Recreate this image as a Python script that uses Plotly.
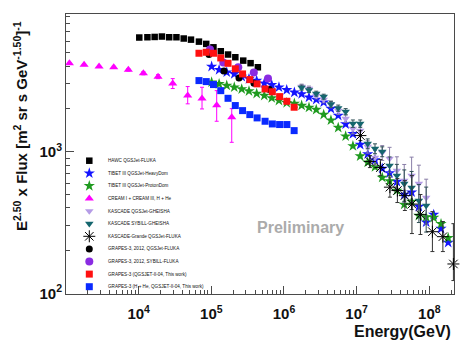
import plotly.graph_objects as go

# ---------------- data ----------------
hawc_E = [1.02e4, 1.32e4, 1.66e4, 2.09e4, 2.63e4, 3.31e4, 4.17e4, 5.25e4, 6.76e4, 8.51e4,
          1.07e5, 1.35e5, 1.70e5, 2.14e5, 2.75e5, 3.47e5, 4.37e5]
hawc_F = [6383, 6412, 6442, 6486, 6412, 6412, 6281, 6166, 5970, 5754,
          5445, 5105, 4842, 4634, 4385, 4207, 3936]

tibet_E = [1.01e5, 1.28e5, 1.63e5, 2.07e5, 2.62e5, 3.30e5, 4.21e5, 5.36e5, 6.78e5, 8.53e5,
           1.09e6, 1.39e6, 1.75e6, 2.21e6, 2.78e6, 3.52e6, 4.43e6, 5.58e6, 7.06e6, 8.89e6,
           1.12e7, 1.42e7, 1.79e7, 2.25e7, 2.84e7, 3.58e7, 4.52e7, 5.71e7, 7.19e7, 9.06e7,
           1.15e8, 1.45e8, 1.82e8]
tibet_heavy_F = [3981, 3776, 3631, 3532, 3381, 3258, 3170, 3034, 2958, 2844,
                 2723, 2618, 2547, 2415, 2328, 2228, 2009, 1795, 1563, 1334,
                 1119, 960, 871, 759, 705, 614, 498, 516, 409, 317,
                 359, 286, 228]
tibet_proton_F = [3083, 3006, 2924, 2844, 2761, 2673, 2566, 2484, 2388, 2291,
                  2208, 2183, 2113, 2046, 1977, 1824, 1663, 1476, 1282, 1094,
                  929, 840, 780, 656, 619, 531, 423, 444, 353, 345,
                  342, 309, 246]

cream_E = [1114, 1774, 2851, 4539, 7211, 11610, 18490, 29440, 47310, 74470, 118600, 191000]
cream_F = [4198, 4102, 3981, 3936, 3776, 3573, 3381, 3020, 2483, 2371, 2123, 1746]
cream_err_up = [60, 60, 60, 70, 80, 90, 110, 253, 394, 473, 569, 264]
cream_err_dn = [60, 60, 60, 70, 80, 90, 110, 234, 310, 371, 486, 583]

kascade_E = [1.75e6, 2.21e6, 2.78e6, 3.52e6, 4.43e6, 5.58e6, 7.06e6, 8.89e6, 1.12e7,
             1.42e7, 1.79e7, 2.25e7, 2.84e7, 3.58e7, 4.52e7, 5.71e7, 7.19e7, 9.06e7]
kascade_qgs_F = [2877, 2786, 2484, 2328, 2148, 1946, 1710, 1452, 1406,
                 1084, 908, 984, 893, 735, 624, 677, 594, 473]
kascade_qgs_pct = [4, 4, 5, 5, 5, 6, 6, 8, 8, 10, 12, 12, 20, 25, 30, 35, 35, 35]
kascade_syb_F = [2831, 2716, 2566, 2443, 2163, 2028, 1915, 1577, 1577,
                 1138, 1050, 1000, 797, 677, 594, 557, 451, 416]
kascade_syb_pct = [4, 4, 4, 4, 5, 5, 5, 6, 6, 8, 8, 8, 15, 20, 25, 30, 30, 35]

kg_E = [1.127e7, 1.524e7, 2.123e7, 2.871e7, 3.639e7, 4.613e7, 5.768e7, 7.551e7, 1.104e8, 1.538e8, 2.148e8]
kg_F = [1297, 850, 771, 561, 531, 489, 426, 359, 272, 251, 161]
kg_hi = [1406, 937, 879, 661, 645, 624, 677, 498, 377, 321, 310]
kg_lo = [1196, 771, 677, 477, 437, 384, 264, 260, 197, 197, 123]

g12_qgs_E = [92900, 149600, 240400, 386400, 632400]
g12_qgs_F = [4838, 3698, 3304, 3034, 2739]
g12_syb_E = [95900, 146200, 235000, 384600, 602600]
g12_syb_F = [5248, 4246, 3936, 3612, 3273]

g3_E = [67610, 85110, 107200, 134900, 169800, 213800, 269200, 338800, 426600, 549500,
        691800, 871000, 1.096e6, 1.380e6]
g3_all_F = [4943, 5023, 4943, 4581, 4198, 3837, 3532, 3221, 3006, 2767, 2642, 2443, 2265, 2056]
g3_hhe_F = [3170, 3119, 2972, 2692, 2377, 2113, 1946, 1824, 1729, 1637, 1567, 1552, 1552, 1406]

legend_labels = ["HAWC QGSJet-FLUKA", "TIBET III QGSJet-HeavyDom", "TIBET III QGSJet-ProtonDom",
                 "CREAM I + CREAM III, H + He", "KASCADE QGSJet-GHEISHA", "KASCADE SYBILL-GHEISHA",
                 "KASCADE-Grande QGSJet-FLUKA", "GRAPES-3, 2012, QGSJet-FLUKA",
                 "GRAPES-3, 2012, SYBILL-FLUKA", "GRAPES-3 (QGSJET-II-04, This work)",
                 "GRAPES-3 (H + He, QGSJET-II-04, This work)"]
x_tickvals = [1e4, 1e5, 1e6, 1e7, 1e8]
x_ticktext = ["10<sup>4</sup>", "10<sup>5</sup>", "10<sup>6</sup>", "10<sup>7</sup>", "10<sup>8</sup>"]
y_tickvals = [100, 1000]
y_ticktext = ["10<sup>2</sup>", "10<sup>3</sup>"]

# ---------------- styles ----------------
C_BLACK = "#000000"
C_BLUE = "#1414ff"
C_GREEN = "#1f9a1f"
C_MAG = "#ff00ff"
C_LAV = "#b59ce6"
C_TEAL = "#15666e"
C_PURP = "#8a2be2"
C_RED = "#ff1010"
C_BSQ = "#0a2aff"

styles = [
    dict(symbol="square", color=C_BLACK, size=6.5),
    dict(symbol="star", color=C_BLUE, size=8.5),
    dict(symbol="star", color=C_GREEN, size=8.5),
    dict(symbol="triangle-up", color=C_MAG, size=8),
    dict(symbol="triangle-down", color=C_LAV, size=7.5),
    dict(symbol="triangle-down", color=C_TEAL, size=7.5),
    dict(symbol="asterisk-open", color=C_BLACK, size=10, line=dict(width=1, color=C_BLACK)),
    dict(symbol="circle", color=C_BLACK, size=7),
    dict(symbol="circle", color=C_PURP, size=8),
    dict(symbol="square", color=C_RED, size=7),
    dict(symbol="square", color=C_BSQ, size=7),
]

fig = go.Figure()

def add(x, y, st, err=None, clip=True):
    fig.add_trace(go.Scatter(x=x, y=y, mode="markers", marker=st, error_y=err,
                             showlegend=False, cliponaxis=clip, hoverinfo="skip"))

add(hawc_E, hawc_F, styles[0])
add(tibet_E, tibet_heavy_F, styles[1])
add(tibet_E, tibet_proton_F, styles[2])
add(cream_E, cream_F, styles[3],
    dict(type="data", array=cream_err_up, arrayminus=cream_err_dn, color=C_MAG, thickness=1, width=2))
add(kascade_E, kascade_qgs_F, styles[4],
    dict(type="data", array=[f * p / 100 for f, p in zip(kascade_qgs_F, kascade_qgs_pct)],
         color="#8a7fa8", thickness=1, width=2))
add(kascade_E, kascade_syb_F, styles[5],
    dict(type="data", array=[f * p / 100 for f, p in zip(kascade_syb_F, kascade_syb_pct)],
         color="#2f4f55", thickness=1, width=2))
add(kg_E, kg_F, styles[6],
    dict(type="data", array=[h - f for h, f in zip(kg_hi, kg_F)],
         arrayminus=[f - l for f, l in zip(kg_F, kg_lo)], color="#333333", thickness=1, width=2),
    clip=False)
add(g12_qgs_E, g12_qgs_F, styles[7])
add(g12_syb_E, g12_syb_F, styles[8])
add(g3_E, g3_all_F, styles[9])
add(g3_E, g3_hhe_F, styles[10])

# ---------------- manual legend (compact rows) ----------------
PLOT_L, PLOT_R, PLOT_T, PLOT_B = 66, 454, 14, 294
W, H = 474, 345
row_px = [160.7 + 12.6 * i for i in range(len(legend_labels))]
row_y = [(PLOT_B - r) / (PLOT_B - PLOT_T) for r in row_px]
mk_x = (89.3 - PLOT_L) / (PLOT_R - PLOT_L)
tx_x = (105.5 - PLOT_L) / (PLOT_R - PLOT_L)
for st, yy in zip(styles, row_y):
    fig.add_trace(go.Scatter(x=[mk_x], y=[yy], xaxis="x2", yaxis="y2", mode="markers",
                             marker=st, showlegend=False, hoverinfo="skip"))
annotations = []
for lab, yy in zip(legend_labels, row_y):
    annotations.append(dict(x=tx_x, y=yy, xref="paper", yref="paper", text=lab, showarrow=False,
                            xanchor="left", yanchor="middle",
                            font=dict(size=4.6, color="#111111", family="Liberation Sans")))

annotations.append(dict(x=(300 - PLOT_L) / (PLOT_R - PLOT_L), y=(PLOT_B - 227) / (PLOT_B - PLOT_T),
                        xref="paper", yref="paper", text="<b>Preliminary</b>", showarrow=False,
                        xanchor="center", yanchor="middle",
                        font=dict(size=16, color="#ababab", family="Liberation Sans")))
annotations.append(dict(x=(453 - PLOT_L) / (PLOT_R - PLOT_L), y=(PLOT_B - 331) / (PLOT_B - PLOT_T),
                        xref="paper", yref="paper", text="<b>Energy(GeV)</b>", showarrow=False,
                        xanchor="right", yanchor="middle",
                        font=dict(size=16, color="#111111", family="Liberation Sans")))
annotations.append(dict(x=(20 - PLOT_L) / (PLOT_R - PLOT_L), y=(PLOT_B - 126) / (PLOT_B - PLOT_T),
                        xref="paper", yref="paper", textangle=-90,
                        text="<b>E<sup>2.50</sup> x Flux [m<sup>2</sup> sr s GeV<sup>-1.50</sup>]<sup>-1</sup></b>",
                        showarrow=False, xanchor="center", yanchor="middle",
                        font=dict(size=15, color="#111111", family="Liberation Sans")))

axis_common = dict(type="log", showgrid=False, zeroline=False, showline=True, mirror=True,
                   linecolor="#4a4a4a", linewidth=1, ticks="inside", ticklen=8, tickwidth=1,
                   tickcolor="#4a4a4a", tickmode="array",
                   tickfont=dict(size=15, color="#111111", family="Liberation Sans", weight="bold"),
                   minor=dict(ticks="inside", ticklen=4, tickwidth=1, tickcolor="#4a4a4a",
                              dtick="D1", showgrid=False))

fig.update_layout(
    width=W, height=H,
    margin=dict(l=PLOT_L, r=W - PLOT_R, t=PLOT_T, b=H - PLOT_B),
    paper_bgcolor="white", plot_bgcolor="white",
    showlegend=False,
    xaxis=dict(axis_common, range=[3.0, 8.34], tickvals=x_tickvals, ticktext=x_ticktext,
               ticklabelstandoff=6),
    yaxis=dict(axis_common, range=[1.995, 3.971], tickvals=y_tickvals, ticktext=y_ticktext),
    xaxis2=dict(overlaying="x", anchor="y2", range=[0, 1], visible=False),
    yaxis2=dict(overlaying="y", anchor="x2", range=[0, 1], visible=False),
    annotations=annotations,
)

fig.write_html("out.html")
